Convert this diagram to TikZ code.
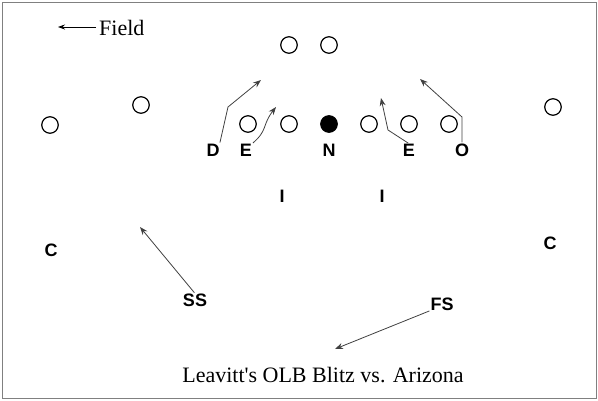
\documentclass[tikz,border=0pt]{standalone}
\usepackage{fontspec}
\setmainfont{Liberation Serif}
\setsansfont{Liberation Sans}
\usetikzlibrary{arrows.meta,positioning}
\tikzset{% 
  player/.style={%
    circle,
    draw,
    line width=1.2pt,
    minimum size=16.5pt,
    inner sep=0pt
  }
}
\tikzset{% 
  snapper/.style={%
    player,
    fill=black
  }
}
\tikzset{% 
  defender/.style={%
    font=\sffamily\bfseries\fontsize{18}{20}\selectfont,
    inner sep=0pt
  }
}
\tikzset{% 
  rush/.style={%
    line width=0.8pt,
    color=black!75,
    shorten <=1pt,
    -{Stealth[length=8pt,width=6pt]}
  }
}

\begin{document}
\begin{tikzpicture}[x=1pt,y=-1pt]
  \useasboundingbox (0,0) rectangle (598,400);
  \draw [gray, line width=1pt] (2,2) rectangle (596,398);
  % offense
  \node [player] (wrl) at (50,125) {};
  \node [player] (slot) at (141,105) {};
  \node [player] (tel) at (248,124) {};
  \node [player] (lg) at (289,124) {};
  \node [snapper] (ctr) at (329,124) {};
  \node [player] (rg) at (369,124) {};
  \node [player] (rt) at (409,124) {};
  \node [player] (ter) at (449,124) {};
  \node [player] (wrr) at (553,107) {};
  \node [player] (qb) at (289,45) {};
  \node [player] (rb) at (329,45) {};
  % defense
  \node [defender] (d) at (213,150) {D};
  \node [defender] (el) at (246,150) {E};
  \node [defender] (n) at (329,150) {N};
  \node [defender] (er) at (409,150) {E};
  \node [defender] (o) at (462,150) {O};
  \node [defender] (il) at (282,196) {I};
  \node [defender] (ir) at (382,196) {I};
  \node [defender] (cl) at (51,250) {C};
  \node [defender] (cr) at (550,243) {C};
  \node [defender] (ss) at (195,300) {SS};
  \node [defender] (fs) at (442,304) {FS};
  % rush paths
  \coordinate (dbend) at (228,107);
  \coordinate (dtip) at (261,80);
  \coordinate (eltip) at (276,107);
  \coordinate (erbend) at (388,130);
  \coordinate (ertip) at (381,98);
  \coordinate (obend) at (462,117);
  \coordinate (otip) at (420,79);
  \coordinate (sstip) at (140,227);
  \coordinate (fstip) at (335,349);
  \draw [rush] (d.north east) -- (dbend) -- (dtip);
  \draw [rush] (el.north east) .. controls (268,130) and (262,125) .. (eltip);
  \draw [rush] (er.north) -- (erbend) -- (ertip);
  \draw [rush] (o.north) -- (obend) -- (otip);
  \draw [rush] (ss.north) -- (sstip);
  \draw [rush] (fs.south west) -- (fstip);
  % labels
  \node [anchor=base west, inner sep=0pt, font=\fontsize{22}{26}\selectfont] (field) at (99,35) {Field};
  \coordinate (fieldtip) at (58,27);
  \draw [-{Stealth[length=7pt,width=5pt]}, line width=0.8pt] (field.west |- fieldtip) ++(-3,0) -- (fieldtip);
  \node [anchor=base, inner sep=0pt, font=\fontsize{22}{26}\selectfont] (title) at (323,382) {Leavitt\textquotesingle s OLB Blitz vs. Arizona};
\end{tikzpicture}
\end{document}
